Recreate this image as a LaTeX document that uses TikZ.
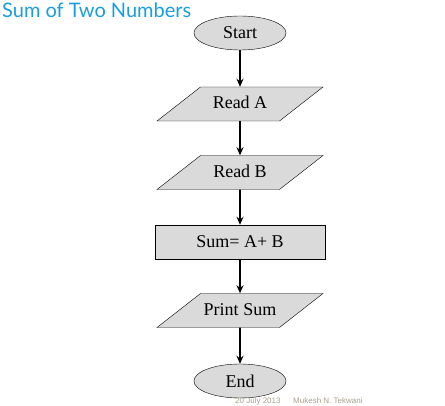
\documentclass[tikz,border=0pt]{standalone}
\usepackage{fontspec}
\setmainfont{Liberation Serif}
\newfontfamily\titlefont{Lato}
\newfontfamily\footfont{Liberation Sans}
\usepackage{xcolor}
\usepackage{tikz}
\usetikzlibrary{shapes.geometric, arrows, arrows.meta, positioning}

\definecolor{titleblue}{RGB}{26,158,220}
\definecolor{footgray}{RGB}{170,160,140}
\definecolor{boxgray}{RGB}{218,218,218}

\begin{document}
\begin{tikzpicture}[
    x=1pt, y=1pt,
    terminal/.style={ellipse, draw, fill=boxgray, minimum width=92pt, minimum height=34pt, inner sep=0pt, font=\fontsize{18}{20}\selectfont},
    io/.style={trapezium, draw, fill=boxgray, trapezium left angle=38, trapezium right angle=142, trapezium stretches body, minimum width=166pt, text height=12pt, text depth=2pt, inner xsep=0pt, inner ysep=10pt, font=\fontsize{18}{20}\selectfont},
    process/.style={rectangle, draw, fill=boxgray, minimum width=170pt, minimum height=34pt, inner sep=0pt, font=\fontsize{18}{20}\selectfont},
    arrow/.style={-{Stealth[length=8pt, width=7pt]}, line width=1.6pt}
]

% Frame
\useasboundingbox (0,0) rectangle (445,-406);

% Title
\node[anchor=base west, inner sep=0pt, text=titleblue, font=\titlefont\fontsize{20}{22}\selectfont] (title) at (2,-18) {Sum of Two Numbers};

% Flowchart
\node[terminal] (start) at (240,-33) {Start};
\node[io] (readA) at (240,-104) {Read A};
\node[io] (readB) at (240,-172.5) {Read B};
\node[process] (sum) at (240,-242) {Sum= A+ B};
\node[io] (print) at (240,-310.5) {Print Sum};
\node[terminal] (stop) at (240,-381) {End};

% Arrows
\draw[arrow] (start) -- (readA);
\draw[arrow] (readA) -- (readB);
\draw[arrow] (readB) -- (sum);
\draw[arrow] (sum) -- (print);
\draw[arrow] (print) -- (stop);

% Footer
\node[anchor=base west, inner sep=0pt, text=footgray, font=\footfont\fontsize{8}{9}\selectfont] (date) at (235,-403) {20 July 2013};
\node[anchor=base west, inner sep=0pt, text=footgray, font=\footfont\fontsize{8}{9}\selectfont] (author) at (293,-403) {Mukesh N. Tekwani};

\end{tikzpicture}
\end{document}
